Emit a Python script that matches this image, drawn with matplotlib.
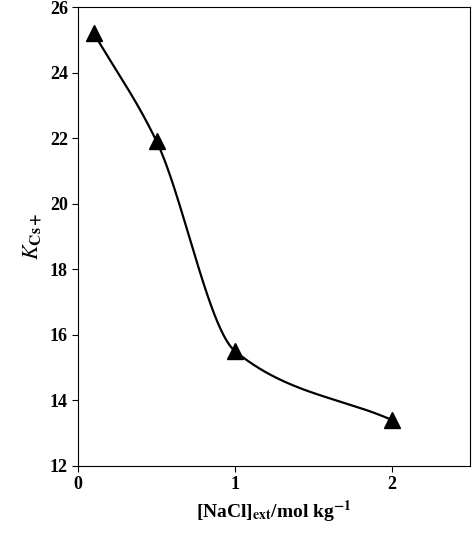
import matplotlib

matplotlib.use("Agg")
import matplotlib.pyplot as plt  # noqa: E402
import numpy as np  # noqa: E402

nacl = [0.1, 0.5, 1.0, 2.0]
k_cs = [25.2, 21.9, 15.5, 13.4]


def pchip(x, y, xs):
    # monotone cubic (Fritsch-Carlson) through the measured points
    x = np.asarray(x, float)
    y = np.asarray(y, float)
    h = np.diff(x)
    d = np.diff(y) / h
    m = np.zeros_like(y)
    m[0], m[-1] = d[0], d[-1]
    for i in range(1, len(x) - 1):
        if d[i - 1] * d[i] > 0:
            w1 = 2 * h[i] + h[i - 1]
            w2 = h[i] + 2 * h[i - 1]
            m[i] = (w1 + w2) / (w1 / d[i - 1] + w2 / d[i])
    idx = np.clip(np.searchsorted(x, xs) - 1, 0, len(x) - 2)
    t = (xs - x[idx]) / h[idx]
    h00 = 2 * t**3 - 3 * t**2 + 1
    h10 = t**3 - 2 * t**2 + t
    h01 = -2 * t**3 + 3 * t**2
    h11 = t**3 - t**2
    return h00 * y[idx] + h10 * h[idx] * m[idx] + h01 * y[idx + 1] + h11 * h[idx] * m[idx + 1]


plt.rcParams["font.family"] = "Liberation Serif"
plt.rcParams["mathtext.fontset"] = "stix"

fig = plt.figure(figsize=(4.74, 5.48), dpi=100)
ax = fig.add_axes([0.165, 0.150, 0.827, 0.837])

xs = np.linspace(nacl[0], nacl[-1], 300)
ax.plot(xs, pchip(nacl, k_cs, xs), color="black", lw=1.6)
ax.plot(nacl, k_cs, "^", color="black", ms=11)

ax.set_xlim(0, 2.5)
ax.set_ylim(12, 26)
ax.set_xticks([0, 1, 2])
ax.set_yticks(range(12, 27, 2))
ax.tick_params(labelsize=13, direction="out", length=4)
for lab in ax.get_xticklabels() + ax.get_yticklabels():
    lab.set_fontweight("bold")
ax.set_xlabel(r"[NaCl]$_\mathbf{ext}$/mol kg$^\mathbf{-1}$", fontsize=14, fontweight="bold")
ax.set_ylabel(r"$K_{\mathbf{Cs+}}$", fontsize=16, fontweight="bold")

fig.savefig("out.png", dpi=100)
